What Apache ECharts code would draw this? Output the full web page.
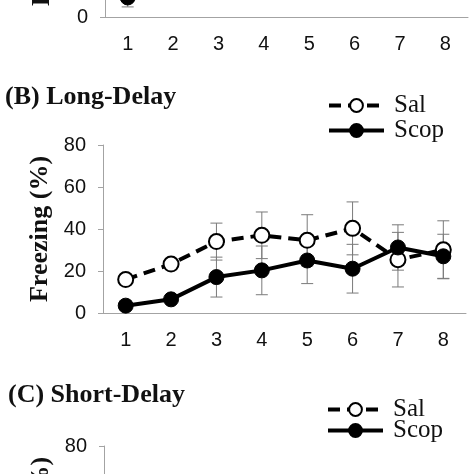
<!DOCTYPE html>
<html lang="en">
<head>
  <meta charset="UTF-8">
  <title>Freezing - Long-Delay / Short-Delay</title>
  <style>
    html, body { margin: 0; padding: 0; background: #fff; }
    #chart { width: 474px; height: 474px; }
  </style>
</head>
<body>
  <div id="chart"></div>

  <script src="https://cdn.jsdelivr.net/npm/echarts@6/dist/echarts.min.js"></script>
  <script>
    // trial days on the x axis
    const days = ['1', '2', '3', '4', '5', '6', '7', '8'];
    const yTicks = [0, 20, 40, 60, 80];

    // (A) only the first Scop point shows at the top edge of the crop
    const scopA = [9.3, null, null, null, null, null, null, null];
    const scopAErr = [4.5, null, null, null, null, null, null, null];

    // (B) Long-Delay, freezing %
    const salB = [15.9, 23.3, 34.0, 37.0, 34.6, 40.3, 25.4, 30.1];
    const salBErr = [1.5, 1.5, 8.8, 11.1, 12.2, 12.6, 13.0, 13.8];
    const scopB = [3.5, 6.5, 17.1, 20.3, 25.0, 21.1, 31.2, 27.0];
    const scopBErr = [1.5, 1.5, 9.5, 11.6, 11.0, 11.6, 10.8, 10.5];

    const chart = echarts.init(document.getElementById('chart'));

    const axisGrey = '#a3a3a3';
    const serif = '"Liberation Serif", "Times New Roman", serif';
    const sans = '"Liberation Sans", Arial, sans-serif';

    function makeX(gridIndex) {
      return {
        type: 'category',
        gridIndex: gridIndex,
        data: days,
        boundaryGap: true,
        axisLine: { lineStyle: { color: axisGrey, width: 1 } },
        axisTick: { length: 5, lineStyle: { color: axisGrey } },
        axisLabel: { fontSize: 20, color: '#111', fontFamily: sans, margin: 17 }
      };
    }

    function makeY(gridIndex) {
      return {
        type: 'value',
        gridIndex: gridIndex,
        min: yTicks[0],
        max: yTicks[yTicks.length - 1],
        interval: 20,
        splitLine: { show: false },
        axisLine: { show: true, lineStyle: { color: axisGrey, width: 1 } },
        axisTick: { show: true, length: 5, lineStyle: { color: axisGrey } },
        axisLabel: { fontSize: 20, color: '#111', fontFamily: sans, margin: 17 },
        name: 'Freezing (%)',
        nameLocation: 'middle',
        nameRotate: 90,
        nameGap: 47,
        nameTextStyle: { fontSize: 26, fontWeight: 'bold', fontFamily: serif, color: '#111' }
      };
    }

    // vertical error bars with caps
    function errorBars(gi, vals, errs) {
      return {
        type: 'custom',
        xAxisIndex: gi,
        yAxisIndex: gi,
        z: 1,
        silent: true,
        data: vals.map((v, i) => (v == null ? null : [i, v, errs[i]])).filter(d => d),
        encode: { x: 0, y: 1 },
        renderItem: function (params, api) {
          const i = api.value(0), v = api.value(1), e = api.value(2);
          const top = api.coord([i, v + e]);
          const bot = api.coord([i, v - e]);
          const hw = 6;
          const st = { stroke: '#7a7a7a', lineWidth: 1 };
          return {
            type: 'group',
            children: [
              { type: 'line', shape: { x1: top[0], y1: top[1], x2: bot[0], y2: bot[1] }, style: st },
              { type: 'line', shape: { x1: top[0] - hw, y1: top[1], x2: top[0] + hw, y2: top[1] }, style: st },
              { type: 'line', shape: { x1: bot[0] - hw, y1: bot[1], x2: bot[0] + hw, y2: bot[1] }, style: st }
            ]
          };
        }
      };
    }

    const salStyle = {
      symbol: 'circle',
      symbolSize: 15,
      lineStyle: { color: '#000', width: 4, type: [12, 7] },
      itemStyle: { color: '#fff', borderColor: '#000', borderWidth: 2 }
    };
    const scopStyle = {
      symbol: 'circle',
      symbolSize: 15,
      lineStyle: { color: '#000', width: 4 },
      itemStyle: { color: '#000', borderColor: '#000', borderWidth: 1 }
    };

    const legendBase = {
      orient: 'vertical',
      data: ['Sal', 'Scop'],
      itemWidth: 55,
      itemHeight: 16,
      padding: 0,
      selectedMode: false,
      lineStyle: { width: 4 },
      textStyle: { fontSize: 25, fontFamily: serif, color: '#111', padding: [0, 0, 0, 5] }
    };

    const option = {
      backgroundColor: '#fff',
      animation: false,
      title: [
        { text: '(B) Long-Delay', left: 5, top: 84, padding: 0,
          textStyle: { fontSize: 26, fontWeight: 'bold', fontFamily: serif, color: '#111' } },
        { text: '(C) Short-Delay', left: 8, top: 382, padding: 0,
          textStyle: { fontSize: 26, fontWeight: 'bold', fontFamily: serif, color: '#111' } }
      ],
      legend: [
        Object.assign({}, legendBase, { left: 327, top: 93, itemGap: 0 }),
        Object.assign({}, legendBase, { left: 326, top: 397, itemGap: -4 })
      ],
      grid: [
        { left: 105, right: 6, top: -151, height: 168, outerBoundsMode: 'none' },
        { left: 103, right: 8, top: 145, height: 168, outerBoundsMode: 'none' },
        { left: 104, right: 6, top: 446, height: 168, outerBoundsMode: 'none' }
      ],
      xAxis: [makeX(0), makeX(1), makeX(2)],
      yAxis: [makeY(0), makeY(1), makeY(2)],
      series: [
        errorBars(0, scopA, scopAErr),
        Object.assign({ type: 'line', name: 'Scop A', xAxisIndex: 0, yAxisIndex: 0, z: 3, data: scopA }, scopStyle),

        errorBars(1, salB, salBErr),
        errorBars(1, scopB, scopBErr),
        Object.assign({ type: 'line', name: 'Sal', xAxisIndex: 1, yAxisIndex: 1, z: 2, data: salB }, salStyle),
        Object.assign({ type: 'line', name: 'Scop', xAxisIndex: 1, yAxisIndex: 1, z: 3, data: scopB }, scopStyle)
      ]
    };

    chart.setOption(option);
  </script>
</body>
</html>
